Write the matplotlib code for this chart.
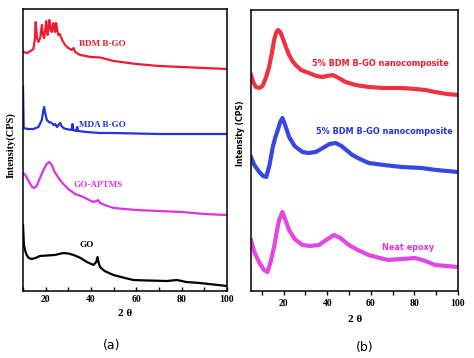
"""XRD patterns: (a) fillers, (b) epoxy nanocomposites."""

import matplotlib

matplotlib.use("Agg")
import matplotlib.pyplot as plt
from matplotlib.ticker import MultipleLocator

# ---- panel (a): stacked XRD traces, offset intensity (arb. units) ----
bdm_x = [10, 12, 14.6, 15.2, 15.6, 16.2, 16.8, 17.6, 18.3, 18.8, 19.3, 19.8, 20.2, 20.6,
         20.9, 21.3, 21.6, 22.1, 22.7, 23.0, 23.4, 23.9, 24.2, 24.6, 25.1, 25.6, 26.2,
         26.7, 27.5, 28.6, 30, 31.5, 32.3, 33, 35.2, 40, 44, 50, 60, 70, 80, 90, 100]
bdm_y = [239, 238, 242, 251, 269, 253, 249, 253, 266, 256, 253, 261, 270, 261,
         256, 263, 271, 263, 259, 264, 268, 261, 259, 268, 261, 256, 257,
         254, 250, 246, 243, 241, 243, 239, 236, 234, 233.5, 230, 227, 225, 224, 223, 222]

mda_x = [10, 10.3, 12, 14.6, 16.8, 18.3, 19.0, 19.3, 19.8, 20.5, 21.5, 22.7, 23.5, 24.2,
         25, 26.0, 26.4, 27.0, 27.8, 29, 31.5, 31.8, 32.2, 33.5, 33.9, 34.3, 38, 44,
         50, 60, 70, 80, 90, 100]
mda_y = [204, 163, 162, 162, 164, 171, 181, 184, 178, 171, 169, 168, 166, 167,
         164, 167, 168, 165, 163, 162, 161, 167, 161, 160, 164, 160, 159, 158,
         158, 157.5, 157, 157, 157, 157]

aptms_x = [10, 11, 12.5, 14, 14.9, 16, 17.5, 19, 20.5, 21.6, 22.7, 24, 26, 27.8, 30, 33,
           36.7, 38.2, 41, 42.5, 43, 44, 46, 50, 55, 60, 70, 80, 90, 100]
aptms_y = [118, 116, 110, 104, 103, 105, 113, 121, 127, 129, 126, 119, 112, 107, 102, 97,
           94, 92, 89, 90, 91, 88, 86, 83, 82, 81, 80, 79, 77, 76]

go_x = [10, 10.4, 11.0, 11.6, 12.5, 13.8, 15.5, 17.5, 20.5, 24, 27.8, 30, 32.3, 35, 38.2,
        41.1, 42.3, 42.9, 43.4, 44, 46, 49.9, 55, 58.7, 65, 73.5, 78, 82, 88, 100]
go_y = [66, 46, 40, 36, 33, 32, 33, 35, 35.5, 36, 38, 37.5, 36, 33.5, 29,
        26, 29, 34, 28, 24, 20, 16, 13, 11, 10.5, 10, 11, 9, 8, 5]

# ---- panel (b): composites ----
comp_x = [5, 6, 7.2, 8.8, 10.3, 11.8, 13.3, 14.5, 15.6, 16.5, 17.4, 18.4, 19.4, 21, 22.5,
          24, 25.5, 28, 31.6, 35, 37.7, 40, 42.3, 44.5, 48.4, 53, 59, 66, 74.3, 80.3,
          85, 89.5, 95, 100]
comp_y = [216, 209, 204, 203, 205, 213, 224, 237, 251, 258, 261, 259, 254, 244, 236,
          230, 226, 221, 218, 215, 214, 215, 216, 214, 209, 206, 204, 203, 203, 202,
          201, 199, 197, 196]

comp2_x = [5, 6.5, 8.8, 10.5, 12, 13.5, 15, 16.2, 17.3, 18.4, 19.4, 20.5, 22.5, 25, 28.6,
           31.5, 34.7, 38, 41, 43.9, 46.5, 51.5, 55, 59, 66, 74.3, 83.4, 90, 100]
comp2_y = [134, 126, 119, 115, 114, 126, 144, 154, 161, 169, 173, 167, 154, 145, 139,
           138, 139, 143, 147, 148, 145, 136, 132, 128, 126, 124, 123, 121, 119]

epoxy_x = [5, 6.5, 8.9, 11, 12.6, 14, 15.6, 16.8, 17.9, 19.4, 20.8, 22.5, 25, 28.6, 32,
           36.2, 39.5, 43, 46, 49.9, 54, 59, 64, 68.2, 74, 80.3, 85, 89.5, 100]
epoxy_y = [51, 39, 28, 21, 19, 29, 44, 59, 71, 79, 71, 61, 52, 46, 45,
           46, 51, 56, 53, 46, 41, 36, 33, 31, 32, 33, 30, 26, 24]

RED, BLUE, MAGENTA = "#ee1c2e", "#2233dd", "#dd33e0"
W, H = 474, 358

fig = plt.figure(figsize=(W / 100, H / 100), dpi=100)
ax_a = fig.add_axes([23 / W, 1 - 291 / H, 204 / W, 282 / H])
ax_b = fig.add_axes([251 / W, 1 - 291 / H, 207 / W, 281 / H])

serif_bold = dict(family="Liberation Serif", weight="bold")
sans_bold = dict(family="DejaVu Sans", weight="bold")

ax_a.plot(bdm_x, bdm_y, color=RED, lw=1.6)
ax_a.plot(mda_x, mda_y, color=BLUE, lw=1.6)
ax_a.plot(aptms_x, aptms_y, color=MAGENTA, lw=1.6)
ax_a.plot(go_x, go_y, color="black", lw=1.6)
ax_a.text(34.8, 247, "BDM B-GO", color=RED, fontsize=6.6, va="center", **serif_bold)
ax_a.text(34.8, 166, "MDA B-GO", color=BLUE, fontsize=6.6, va="center", **serif_bold)
ax_a.text(32.1, 106, "GO-APTMS", color=MAGENTA, fontsize=6.6, va="center", **serif_bold)
ax_a.text(37.9, 46, "GO", color="black", fontsize=6.6, va="center", ha="center", **serif_bold)
ax_a.set_xlim(10, 100)
ax_a.set_ylim(0, 282)

for line_x, line_y, c in ((comp_x, comp_y, RED), (comp2_x, comp2_y, BLUE),
                          (epoxy_x, epoxy_y, MAGENTA)):
    ax_b.plot(line_x, line_y, color=c, lw=3.0, alpha=0.9, solid_joinstyle="round")
ax_b.text(33, 228, "5% BDM B-GO nanocomposite", color=RED, fontsize=5.9, va="center", **sans_bold)
ax_b.text(34.8, 160, "5% BDM B-GO nanocomposite", color=BLUE, fontsize=5.9, va="center", **sans_bold)
ax_b.text(65.1, 44, "Neat epoxy", color=MAGENTA, fontsize=5.9, va="center", **sans_bold)
ax_b.set_xlim(5, 100)
ax_b.set_ylim(0, 281)

for ax, tdir in ((ax_a, "in"), (ax_b, "out")):
    ax.xaxis.set_major_locator(MultipleLocator(20))
    ax.xaxis.set_minor_locator(MultipleLocator(10))
    ax.tick_params(axis="x", which="both", direction=tdir, length=3, width=1, pad=3)
    ax.set_yticks([])
    for lab in ax.get_xticklabels():
        lab.set_fontfamily("Liberation Serif")
        lab.set_fontweight("bold")
        lab.set_fontsize(7)
    for sp in ax.spines.values():
        sp.set_linewidth(1.1)

fig.text(11 / W, 1 - 145 / H, "Intensity(CPS)", rotation=90, fontsize=7.5,
         ha="center", va="center", **serif_bold)
fig.text(240 / W, 1 - 133 / H, "Intensity (CPS)", rotation=90, fontsize=5.6,
         ha="center", va="center", **sans_bold)
fig.text(125 / W, 1 - 313 / H, "2 θ", fontsize=8, ha="center", va="center", **serif_bold)
fig.text(355 / W, 1 - 319 / H, "2 θ", fontsize=8, ha="center", va="center", **serif_bold)
fig.text(112 / W, 1 - 346 / H, "(a)", fontsize=9, ha="center", va="center", family="DejaVu Sans")
fig.text(365 / W, 1 - 347 / H, "(b)", fontsize=9, ha="center", va="center", family="DejaVu Sans")

fig.savefig("out.png", dpi=100)
